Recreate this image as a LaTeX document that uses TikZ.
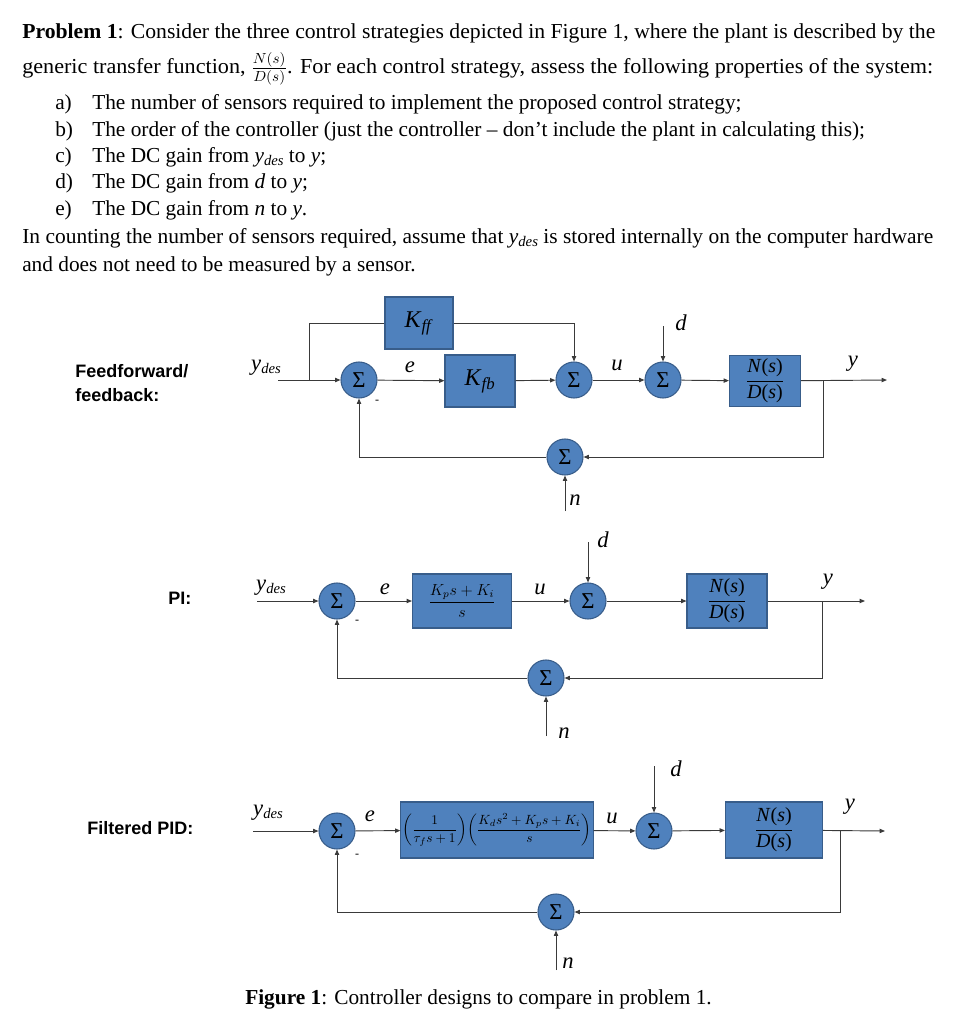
\documentclass[tikz,border=0pt]{standalone}
\usepackage{amsmath}
\usepackage{fontspec}
\setmainfont{Liberation Serif}
\newfontfamily\lsans{Liberation Sans}
\usetikzlibrary{arrows.meta}
\definecolor{bfill}{HTML}{4F81BD}
\definecolor{bdraw}{HTML}{385D8A}
\definecolor{lncol}{HTML}{3A3A3A}
\newcommand\ydes{{\fontsize{17}{17}\selectfont\itshape y}\raisebox{-2pt}{\fontsize{11}{11}\selectfont\itshape des}}
\newcommand\tydes{\textit{y}\raisebox{-2.5pt}{\fontsize{11}{11}\selectfont\itshape des}}
\newcommand\xfac{1.0}
\begin{document}
\begin{tikzpicture}[x=0.75pt,y=-0.75pt,
  sum/.style={circle,fill=bfill,draw=bdraw,line width=0.8pt,minimum size=36*0.75pt,inner sep=0pt,font=\fontsize{17}{17}\selectfont},
  blk/.style={rectangle,fill=bfill,draw=bdraw,line width=0.8pt,inner sep=1pt},
  arr/.style={draw=lncol,line width=0.7pt,-{Triangle[length=4pt,width=3.2pt]}},
  wire/.style={draw=lncol,line width=0.7pt},
  lab/.style={font=\fontsize{17}{17}\selectfont\itshape,inner sep=0pt},
  txt/.style={anchor=base west,inner sep=0pt,font=\fontsize{16}{19}\selectfont},
  side/.style={anchor=west,inner sep=0pt,font=\lsans\bfseries\fontsize{13.5}{16}\selectfont,align=left},
  minus/.style={inner sep=0pt,font=\fontsize{9}{9}\selectfont}]
\useasboundingbox (0,0) rectangle (959,1024);
\fill[white] (0,0) rectangle (959,1024);
% ---------- text ----------
\node[txt] (t1) at (22,39) {\resizebox{684.75pt}{\height}{\textbf{Problem 1}: Consider the three control strategies depicted in Figure 1, where the plant is described by the}};
\node[txt] (t2) at (22,74) {\resizebox{683.25pt}{\height}{generic transfer function, $\frac{N(s)}{D(s)}$. For each control strategy, assess the following properties of the system:}};
\node[txt] (ta) at (55,109) {\scalebox{\xfac}[1]{a)}};
\node[txt] (ta2) at (92,109) {\scalebox{\xfac}[1]{The number of sensors required to implement the proposed control strategy;}};
\node[txt] (tb) at (55,136) {\scalebox{\xfac}[1]{b)}};
\node[txt] (tb2) at (92,136) {\scalebox{\xfac}[1]{The order of the controller (just the controller -- don’t include the plant in calculating this);}};
\node[txt] (tc) at (55,162) {\scalebox{\xfac}[1]{c)}};
\node[txt] (tc2) at (92,162) {\scalebox{\xfac}[1]{The DC gain from \tydes{} to \textit{y};}};
\node[txt] (td) at (55,188) {\scalebox{\xfac}[1]{d)}};
\node[txt] (td2) at (92,188) {\scalebox{\xfac}[1]{The DC gain from \textit{d} to \textit{y};}};
\node[txt] (te) at (55,215) {\scalebox{\xfac}[1]{e)}};
\node[txt] (te2) at (92,215) {\scalebox{\xfac}[1]{The DC gain from \textit{n} to \textit{y}.}};
\node[txt] (t8) at (22,243) {\resizebox{683.25pt}{\height}{In counting the number of sensors required, assume that \tydes{} is stored internally on the computer hardware}};
\node[txt] (t9) at (22,271) {\scalebox{\xfac}[1]{and does not need to be measured by a sensor.}};
% ---------- side labels ----------
\node[side] (l1) at (75,383) {Feedforward/\\[2pt]feedback:};
\node[side] (l2) at (168,598) {PI:};
\node[side] (l3) at (87,828) {Filtered PID:};
% ---------- diagram 1 ----------
\node[sum] (a1) at (359,380) {Σ};
\node[blk,minimum width=68*0.75pt,minimum height=52*0.75pt,font=\fontsize{18}{18}\selectfont] (kff) at (419,323) {\textit{K}\textsubscript{\textit{ff}}};
\node[blk,minimum width=70*0.75pt,minimum height=52*0.75pt,font=\fontsize{18}{18}\selectfont] (kfb) at (480,381) {\textit{K}\textsubscript{\textit{fb}}};
\node[sum] (a2) at (574,380) {Σ};
\node[sum] (a3) at (663,380) {Σ};
\node[blk,minimum width=71*0.75pt,minimum height=51*0.75pt,font=\fontsize{15}{15}\selectfont] (p1) at (765,381) {$\dfrac{\mbox{\textit{N}(\textit{s})}}{\mbox{\textit{D}(\textit{s})}}$};
\node[sum] (a4) at (565,457) {Σ};
\coordinate (in1) at (278,380);
\coordinate (br1) at (309,380);
\coordinate (d1) at (663,326);
\coordinate (o1) at (887,380);
\coordinate (fb1) at (823,380);
\coordinate (n1) at (565,511);
\draw[arr] (in1) -- (a1);
\draw[wire] (br1) |- (kff.west);
\draw[arr] (kff.east) -| (a2.north);
\draw[arr] (a1) -- (kfb);
\draw[arr] (kfb) -- (a2);
\draw[arr] (a2) -- (a3);
\draw[arr] (d1) -- (a3);
\draw[arr] (a3) -- (p1);
\draw[arr] (p1) -- (o1);
\draw[arr] (fb1) |- (a4);
\draw[arr] (a4) -| (a1);
\draw[arr] (n1) -- (a4);
\node[lab] (ly1) at (266,368) {\ydes};
\node[lab] (le1) at (410,367) {e};
\node[lab] (lu1) at (617,365) {u};
\node[lab] (ld1) at (681,323) {d};
\node[lab] (lyy1) at (853,364) {y};
\node[lab] (ln1) at (575,500) {n};
\node[minus] (m1) at (377,402) {-};
% ---------- diagram 2 ----------
\node[sum] (b1) at (337,601) {Σ};
\node[blk,minimum width=99*0.75pt,minimum height=54*0.75pt,font=\fontsize{12}{12}\selectfont] (c2) at (462,601) {$\dfrac{K_p s+K_i}{s}$};
\node[sum] (b2) at (588,601) {Σ};
\node[blk,minimum width=80*0.75pt,minimum height=54*0.75pt,font=\fontsize{15}{15}\selectfont] (p2) at (727,601) {$\dfrac{\mbox{\textit{N}(\textit{s})}}{\mbox{\textit{D}(\textit{s})}}$};
\node[sum] (b3) at (546,678) {Σ};
\coordinate (in2) at (257,601);
\coordinate (d2) at (588,542);
\coordinate (o2) at (865,601);
\coordinate (fb2) at (822,601);
\coordinate (n2) at (546,736);
\draw[arr] (in2) -- (b1);
\draw[arr] (b1) -- (c2);
\draw[arr] (c2) -- (b2);
\draw[arr] (d2) -- (b2);
\draw[arr] (b2) -- (p2);
\draw[arr] (p2) -- (o2);
\draw[arr] (fb2) |- (b3);
\draw[arr] (b3) -| (b1);
\draw[arr] (n2) -- (b3);
\node[lab] (ly2) at (271,588) {\ydes};
\node[lab] (le2) at (385,589) {e};
\node[lab] (lu2) at (540,589) {u};
\node[lab] (ld2) at (603,540) {d};
\node[lab] (lyy2) at (828,582) {y};
\node[lab] (ln2) at (564,733) {n};
\node[minus] (m2) at (357,622) {-};
% ---------- diagram 3 ----------
\node[sum] (g1) at (337,831) {Σ};
\node[blk,minimum width=191*0.75pt,minimum height=56*0.75pt,font=\fontsize{10}{10}\selectfont] (c3) at (497,830) {$\left(\dfrac{1}{\tau_f s+1}\right)\!\left(\dfrac{K_d s^2+K_p s+K_i}{s}\right)$};
\node[sum] (g2) at (654,831) {Σ};
\node[blk,minimum width=97*0.75pt,minimum height=56*0.75pt,font=\fontsize{15}{15}\selectfont] (p3) at (774,830) {$\dfrac{\mbox{\textit{N}(\textit{s})}}{\mbox{\textit{D}(\textit{s})}}$};
\node[sum] (g3) at (556,912) {Σ};
\coordinate (in3) at (253,831);
\coordinate (d3) at (654,766);
\coordinate (o3) at (885,831);
\coordinate (fb3) at (840,831);
\coordinate (n3) at (556,970);
\draw[arr] (in3) -- (g1);
\draw[arr] (g1) -- (c3);
\draw[arr] (c3) -- (g2);
\draw[arr] (d3) -- (g2);
\draw[arr] (g2) -- (p3);
\draw[arr] (p3) -- (o3);
\draw[arr] (fb3) |- (g3);
\draw[arr] (g3) -| (g1);
\draw[arr] (n3) -- (g3);
\node[lab] (ly3) at (268,813) {\ydes};
\node[lab] (le3) at (370,816) {e};
\node[lab] (lu3) at (612,818) {u};
\node[lab] (ld3) at (676,769) {d};
\node[lab] (lyy3) at (850,807) {y};
\node[lab] (ln3) at (568,963) {n};
\node[minus] (m3) at (357,856) {-};
% ---------- caption ----------
\node[txt] (cap) at (245,1004) {\scalebox{\xfac}[1]{\textbf{Figure 1}: Controller designs to compare in problem 1.}};
\end{tikzpicture}
\end{document}
